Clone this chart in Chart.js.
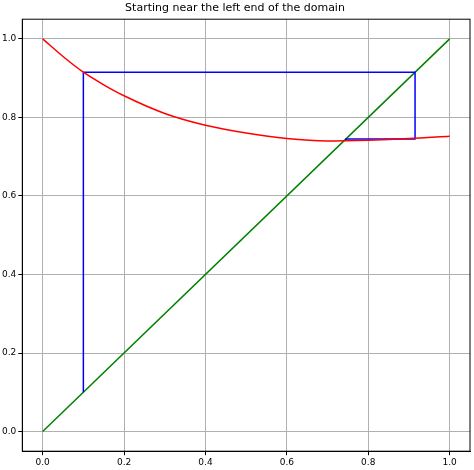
<!DOCTYPE html>
<html lang="en">
<head>
  <meta charset="UTF-8">
  <title>Cobweb</title>
  <script src="https://cdn.jsdelivr.net/npm/chart.js"></script>
  <style>
    body { margin: 0; background: #fff; }
    #wrap { width: 474px; height: 470px; }
  </style>
</head>
<body>
  <div id="wrap"><canvas id="c"></canvas></div>
  <script>
    const curveX = [0, 0.05, 0.1, 0.15, 0.2, 0.3, 0.4, 0.5, 0.6, 0.7, 0.8, 0.9, 1.0];
    const curveY = [1.0, 0.955, 0.915, 0.883, 0.855, 0.81, 0.78, 0.76, 0.746, 0.74, 0.742, 0.746, 0.752];
    const webX = [0.1, 0.1, 0.915, 0.915, 0.745, 0.745];
    const webY = [0.1, 0.915, 0.915, 0.745, 0.745, 0.74];
    const diagX = [0, 1];
    const diagY = [0, 1];
    const tickVals = [0, 0.2, 0.4, 0.6, 0.8, 1.0];

    const pts = (xs, ys) => xs.map((x, i) => ({ x: x, y: ys[i] }));

    const frame = {
      id: 'frame',
      afterDraw(chart) {
        const a = chart.chartArea, ctx = chart.ctx;
        ctx.save();
        ctx.strokeStyle = '#000';
        ctx.lineWidth = 1;
        ctx.strokeRect(a.left, a.top, a.right - a.left, a.bottom - a.top);
        ctx.restore();
      }
    };

    const axis = () => ({
      type: 'linear', min: -0.05, max: 1.05,
      afterBuildTicks: s => { s.ticks = tickVals.map(v => ({ value: v })); },
      ticks: { callback: v => v.toFixed(1), color: '#000', padding: 2, font: { family: 'DejaVu Sans', size: 9 } },
      grid: { color: '#b0b0b0', tickColor: '#000', tickLength: 4 },
      border: { color: '#000' }
    });

    new Chart(document.getElementById('c'), {
      type: 'scatter',
      data: {
        datasets: [
          { data: pts(curveX, curveY), showLine: true, borderColor: 'red', borderWidth: 1.5, pointRadius: 0, cubicInterpolationMode: 'monotone' },
          { data: pts(webX, webY), showLine: true, borderColor: 'blue', borderWidth: 1.5, pointRadius: 0 },
          { data: pts(diagX, diagY), showLine: true, borderColor: 'green', borderWidth: 1.5, pointRadius: 0 }
        ]
      },
      options: {
        responsive: true, maintainAspectRatio: false, animation: false,
        layout: { padding: { top: 0, right: 4, bottom: 0, left: 0 } },
        plugins: {
          legend: { display: false },
          tooltip: { enabled: false },
          title: { display: true, text: 'Starting near the left end of the domain', color: '#000', font: { family: 'DejaVu Sans', size: 11, weight: 'normal' }, padding: { top: 2, bottom: 4 } }
        },
        scales: { x: axis(), y: axis() }
      },
      plugins: [frame]
    });
  </script>
</body>
</html>
